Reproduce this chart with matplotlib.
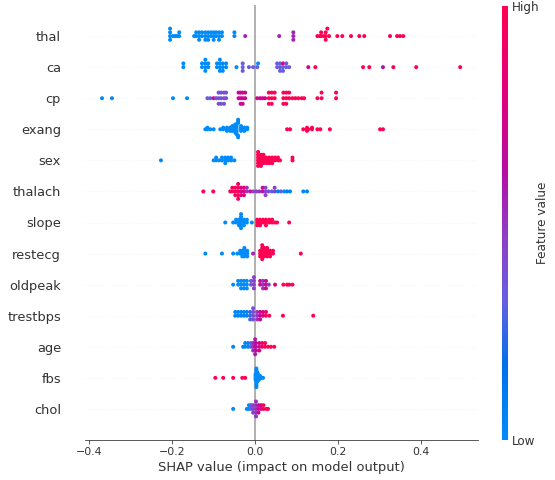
import numpy as np
import matplotlib
matplotlib.use("Agg")
import matplotlib.pyplot as plt
from matplotlib.colors import LinearSegmentedColormap, Normalize
from matplotlib.cm import ScalarMappable

# feature order, top to bottom
features = ["thal", "ca", "cp", "exang", "sex", "thalach", "slope",
            "restecg", "oldpeak", "trestbps", "age", "fbs", "chol"]

# SHAP values and scaled feature values (0 = low, 1 = high)
thal_shap = [-0.205, -0.205, -0.205, -0.205, -0.198, -0.193, -0.188, -0.183, -0.183,
             -0.147, -0.142, -0.142, -0.135, -0.135, -0.135, -0.128, -0.128, -0.12, -0.12,
             -0.12, -0.113, -0.113, -0.113, -0.106, -0.106, -0.1, -0.1, -0.1, -0.094, -0.094,
             -0.087, -0.087, -0.087, -0.08, -0.08, -0.05, -0.05,
             -0.024, 0.058, 0.092, 0.092, 0.092,
             0.15, 0.156, 0.159, 0.159, 0.165, 0.17, 0.17, 0.17, 0.174, 0.178, 0.198, 0.21,
             0.231, 0.251, 0.263, 0.325, 0.342, 0.349, 0.357]
thal_val = [0.0] * 37 + [0.55] * 5 + [1.0] * 19

ca_shap = [-0.173, -0.173,
           -0.128, -0.128, -0.12, -0.12, -0.12, -0.12, -0.113, -0.113,
           -0.092, -0.092, -0.085, -0.085, -0.085, -0.085, -0.078, -0.078, -0.078, -0.07, -0.07,
           -0.045,
           -0.03, -0.03, -0.03, -0.015, -0.005, 0.005,
           0.007,
           0.053, 0.053, 0.06, 0.06, 0.06, 0.067, 0.067, 0.067, 0.075, 0.075, 0.082,
           0.128, 0.145, 0.26, 0.275, 0.308, 0.333, 0.388, 0.494]
ca_val = ([0.0] * 22 + [0.33] * 6 + [0.0] +
          [0.33, 0.33, 0.33, 0.33, 0.33, 0.33, 0.85, 0.33, 0.33, 0.33, 0.33] +
          [0.65, 1.0, 1.0, 1.0, 0.6, 1.0, 1.0, 1.0])

cp_shap = [-0.369, -0.345, -0.198, -0.164,
           -0.115, -0.108, -0.1, -0.094, -0.088, -0.088, -0.088, -0.082, -0.082, -0.082,
           -0.075, -0.075, -0.075, -0.07, -0.07,
           -0.04, -0.04, -0.035, -0.035, -0.035, -0.03, -0.03, -0.03, -0.024, -0.024,
           0.005, 0.012, 0.018, 0.024,
           0.033, 0.033, 0.033, 0.04, 0.04, 0.04, 0.047, 0.047,
           0.068, 0.068, 0.068, 0.075, 0.075, 0.075, 0.082, 0.082,
           0.09, 0.097, 0.104, 0.112, 0.118,
           0.15, 0.16, 0.16, 0.195, 0.195]
cp_val = ([0.0] * 4 + [0.33, 0.33, 0.7] + [0.38] * 12 + [0.7] * 10 +
          [0.72] * 4 + [1.0] * 26)

exang_shap = [-0.12, -0.115, -0.115, -0.108, -0.1,
              -0.084, -0.077, -0.077, -0.068, -0.068, -0.068, -0.06, -0.06, -0.06,
              -0.055, -0.055, -0.055, -0.055, -0.048, -0.048, -0.048, -0.048, -0.048, -0.048,
              -0.045, -0.045, -0.045, -0.045, -0.045, -0.045, -0.045,
              -0.041, -0.041, -0.041, -0.041, -0.041, -0.034, -0.034, -0.034, -0.034,
              -0.026, -0.026, -0.026, -0.019, -0.019,
              0.077, 0.084, 0.116, 0.125, 0.125, 0.125, 0.128, 0.137, 0.137, 0.15, 0.157,
              0.18, 0.301, 0.308]
exang_val = [0.0] * 45 + [1.0] * 14

sex_shap = [-0.227,
            -0.1, -0.094, -0.094, -0.087, -0.08, -0.08, -0.072, -0.072, -0.072, -0.065,
            -0.065, -0.058, -0.058, -0.05,
            0.007, 0.007, 0.007, 0.007, 0.007, 0.007, 0.01, 0.01, 0.014, 0.014, 0.014,
            0.014, 0.014, 0.02, 0.02, 0.02, 0.02, 0.027, 0.027, 0.027, 0.034, 0.034, 0.034,
            0.041, 0.041, 0.041, 0.048, 0.048, 0.055, 0.055, 0.06, 0.09, 0.09]
sex_val = [0.0] * 15 + [1.0] * 33

thalach_shap = [-0.125, -0.101,
                -0.06, -0.055, -0.055, -0.048, -0.048, -0.048, -0.041, -0.041, -0.041, -0.041,
                -0.041, -0.034, -0.034, -0.034, -0.027, -0.027, -0.027, -0.02, -0.02, -0.012,
                -0.005, 0.003, 0.01, 0.018, 0.018, 0.025, 0.025, 0.025, 0.032, 0.04, 0.047,
                0.047, 0.055, 0.062, 0.07, 0.077, 0.084, 0.116, 0.125]
thalach_val = ([1.0, 1.0] + [0.95] * 11 + [0.75] * 3 + [0.8] * 3 + [0.5, 0.5, 0.7, 0.45] +
               [0.45, 0.5, 0.7, 0.7, 0.45, 0.45, 0.45, 0.4, 0.3, 0.45, 0.45,
                0.1, 0.3, 0.05, 0.1, 0.05, 0.05, 0.05])

slope_shap = [-0.072, -0.053, -0.046, -0.046, -0.039, -0.039, -0.039, -0.034, -0.034,
              -0.034, -0.034, -0.034, -0.034, -0.027, -0.027, -0.027, -0.02, -0.02, -0.008,
              0.005, 0.005, 0.005, 0.012, 0.012, 0.012, 0.019, 0.019, 0.026, 0.026, 0.026,
              0.034, 0.034, 0.041, 0.041, 0.048, 0.053, 0.082]
slope_val = [0.0] * 19 + [1.0] * 18

restecg_shap = [-0.12, -0.08, -0.053, -0.043, -0.036, -0.036, -0.031, -0.031, -0.031,
                -0.026, -0.026, -0.026, -0.026, -0.019, -0.019, -0.019,
                -0.005,
                0.012, 0.012, 0.012, 0.017, 0.017, 0.017, 0.017, 0.017, 0.017, 0.022, 0.022,
                0.022, 0.022, 0.029, 0.029, 0.029, 0.029, 0.036, 0.036, 0.036, 0.043, 0.043,
                0.11]
restecg_val = [0.0] * 16 + [0.55] + [1.0] * 23

oldpeak_shap = [-0.053, -0.041, -0.041, -0.034, -0.034, -0.034, -0.027, -0.027, -0.027,
                -0.02, -0.02, -0.02,
                -0.01, -0.01, -0.003, -0.003, -0.003, -0.003,
                0.012, 0.012, 0.019, 0.019, 0.019, 0.026, 0.026, 0.026, 0.033, 0.048,
                0.068, 0.077, 0.082, 0.09]
oldpeak_val = ([0.0] * 12 + [0.35, 0.35, 0.45, 0.45, 0.45, 0.45] +
               [0.7, 0.7, 0.5, 0.5, 0.5, 0.7, 0.7, 0.7, 0.45, 0.8, 1.0, 1.0, 1.0, 1.0])

trestbps_shap = [-0.048, -0.048, -0.041, -0.041, -0.034, -0.034, -0.027, -0.027, -0.02, -0.02,
                 -0.012, -0.012, -0.012, -0.005, -0.005, -0.005, -0.005,
                 0.005, 0.005, 0.005, 0.012, 0.012, 0.012, 0.019, 0.019, 0.026, 0.026,
                 0.034, 0.067, 0.14]
trestbps_val = ([0.05] * 10 + [0.25] * 3 + [0.4] * 4 + [0.5] * 3 + [0.7] * 3 +
                [0.75] * 2 + [0.9] * 2 + [1.0] * 3)

age_shap = [-0.053, -0.029, -0.024, -0.024, -0.017, -0.017, -0.01, -0.01, -0.005, -0.005,
            -0.005, 0.0, 0.0, 0.0, 0.0, 0.0, 0.002, 0.002, 0.002, 0.01, 0.01, 0.01, 0.017,
            0.017, 0.024, 0.024, 0.031, 0.038, 0.046]
age_val = ([0.05] * 6 + [0.35] * 2 + [0.5] * 3 + [0.6] * 5 + [0.65] * 3 + [0.75] * 3 +
           [0.9] * 2 + [1.0] * 5)

fbs_shap = [-0.096, -0.077, -0.053, -0.031, -0.024,
            0.001, 0.001, 0.001, 0.001,
            0.003, 0.003, 0.003, 0.003, 0.003, 0.003, 0.003, 0.003, 0.003, 0.003, 0.003,
            0.005, 0.005, 0.005, 0.005, 0.005, 0.005,
            0.007, 0.007, 0.007, 0.007, 0.009, 0.009, 0.009, 0.012, 0.012, 0.015, 0.019]
fbs_val = [1.0] * 5 + [0.0] * 32

chol_shap = [-0.053, -0.02, -0.015, -0.015, -0.01, -0.01, -0.005, -0.005, -0.005,
             0.002, 0.002, 0.002, 0.002, 0.002, 0.008, 0.008, 0.008, 0.014, 0.014, 0.02,
             0.02, 0.027, 0.031]
chol_val = ([0.0] * 4 + [0.35] * 2 + [0.45] * 3 + [0.5] * 5 + [0.7] * 3 +
            [0.75] * 2 + [0.95] * 2 + [1.0] * 2)

shap_rows = [thal_shap, ca_shap, cp_shap, exang_shap, sex_shap, thalach_shap, slope_shap,
             restecg_shap, oldpeak_shap, trestbps_shap, age_shap, fbs_shap, chol_shap]
val_rows = [thal_val, ca_val, cp_val, exang_val, sex_val, thalach_val, slope_val,
            restecg_val, oldpeak_val, trestbps_val, age_val, fbs_val, chol_val]

# shap-like red/blue colormap
red_blue = LinearSegmentedColormap.from_list("red_blue", [
    (0.0, (0.0, 0.545, 0.984)),
    (0.17, (0.0, 0.44, 0.92)),
    (0.32, (0.40, 0.37, 0.88)),
    (0.47, (0.56, 0.24, 0.78)),
    (0.62, (0.71, 0.05, 0.65)),
    (0.80, (0.88, 0.0, 0.48)),
    (1.0, (1.0, 0.0, 0.32)),
])

axis_color = "#333333"
row_height = 0.4


def beeswarm_offsets(shaps, nbins=100):
    shaps = np.asarray(shaps, dtype=float)
    quant = np.round(nbins * (shaps - shaps.min()) / (shaps.max() - shaps.min() + 1e-8))
    inds = np.argsort(quant, kind="stable")
    layer = 0
    last_bin = -1
    ys = np.zeros(len(shaps))
    for ind in inds:
        if quant[ind] != last_bin:
            layer = 0
        ys[ind] = np.ceil(layer / 2) * ((layer % 2) * 2 - 1)
        layer += 1
        last_bin = quant[ind]
    ys *= 0.9 * (row_height / np.max(ys + 1))
    return ys


fig = plt.figure(figsize=(555 / 72, 480 / 72), dpi=72)
ax = fig.add_axes([85 / 555, 40 / 480, 393 / 555, 435 / 480])

n = len(features)
for i, (name, shaps, vals) in enumerate(zip(features, shap_rows, val_rows)):
    pos = n - 1 - i
    ax.axhline(y=pos, color="#cccccc", lw=0.5, dashes=(1, 5), zorder=-1)
    ys = beeswarm_offsets(shaps)
    ax.scatter(shaps, pos + ys, c=vals, cmap=red_blue, vmin=0, vmax=1,
               s=16, linewidth=0, alpha=1, zorder=3)

ax.axvline(x=0, color="#999999", zorder=-1)

ax.set_yticks(range(n))
ax.set_yticklabels(features[::-1], fontsize=13)
ax.set_ylim(-1, n)
ax.set_xlim(-0.41, 0.537)
ax.set_xticks([-0.4, -0.2, 0.0, 0.2, 0.4])
ax.set_xlabel("SHAP value (impact on model output)", fontsize=13, color=axis_color)

for s in ["top", "right", "left"]:
    ax.spines[s].set_visible(False)
ax.spines["bottom"].set_color(axis_color)
ax.tick_params("y", length=0, pad=24, labelcolor=axis_color)
ax.tick_params("x", labelsize=11, color=axis_color, labelcolor=axis_color)

# colorbar
cax = fig.add_axes([502 / 555, 40 / 480, 6 / 555, 434 / 480])
cb = fig.colorbar(ScalarMappable(norm=Normalize(0, 1), cmap=red_blue), cax=cax, ticks=[0, 1])
cb.set_ticklabels(["Low", "High"], fontsize=12)
cb.ax.tick_params(length=0, labelcolor=axis_color)
cb.outline.set_visible(False)
fig.text(543 / 555, 1 - 223 / 480, "Feature value", rotation=90, fontsize=12,
         ha="center", va="center", color=axis_color)

fig.savefig("out.png", dpi=72)
